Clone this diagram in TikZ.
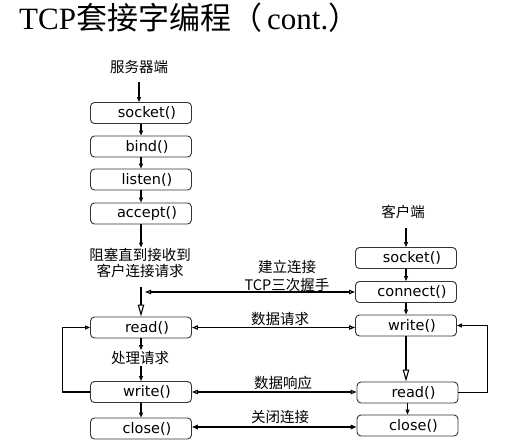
\documentclass[tikz,border=0pt]{standalone}
\usepackage{fontspec}
\setmainfont{Liberation Serif}
\newfontfamily\cjk{Noto Sans CJK SC}
\newfontfamily\boxfont{DejaVu Sans}
\usetikzlibrary{arrows.meta}
\begin{document}
\begin{tikzpicture}[x=1pt,y=-1pt,
  fbox/.style={draw=black!80, line width=0.9pt, rounded corners=4pt,
    minimum width=101pt, minimum height=21pt, inner sep=0pt,
    font=\boxfont\fontsize{14.5}{15}\selectfont},
  lbl/.style={inner sep=1pt, font=\cjk\fontsize{14.5}{17}\selectfont, align=center},
  sm/.style={line width=1.1pt, -{Triangle[open, length=5pt, width=4pt]}},
  bg/.style={line width=1.1pt, -{Triangle[open, length=12pt, width=6.5pt]}},
  both/.style={line width=1.1pt, {Triangle[open, length=6pt, width=4.5pt]}-{Triangle[open, length=6pt, width=4.5pt]}}
]
\useasboundingbox (0,0) rectangle (514,445);
% title
\node[anchor=west, inner sep=0pt, font=\fontsize{31}{34}\selectfont] (title) at (19,18)
  {TCP{\cjk 套接字编程（}\,cont.{\cjk ）}};
% server column
\node[lbl] (slab) at (139,67) {服务器端};
\coordinate (sstart) at (139,82);
\node[fbox] (ssocket) at (141,113) {\hspace*{12pt}socket()};
\node[fbox] (sbind) at (141,146.5) {\hspace*{12pt}bind()};
\node[fbox] (slisten) at (141,179.5) {\hspace*{12pt}listen()};
\node[fbox] (saccept) at (141,213.5) {\hspace*{12pt}accept()};
\node[lbl, inner sep=0pt] (sblock) at (140,262.5) {阻塞直到接收到\\[-1pt]客户连接请求};
\node[fbox] (sread) at (141,327.5) {\hspace*{12pt}read()};
\node[lbl] (sproc) at (140,358) {处理请求};
\node[fbox] (swrite) at (141,392) {\hspace*{12pt}write()};
\node[fbox] (sclose) at (141,428.5) {\hspace*{12pt}close()};
% client column
\node[lbl] (clab) at (403,212) {客户端};
\node[fbox] (csocket) at (406,258) {\hspace*{12pt}socket()};
\node[fbox] (cconnect) at (406,292) {\hspace*{12pt}connect()};
\node[fbox] (cwrite) at (406,325.5) {\hspace*{12pt}write()};
\node[fbox] (cread) at (407.5,392.5) {\hspace*{12pt}read()};
\node[fbox] (cclose) at (407.5,425.5) {\hspace*{12pt}close()};
% server vertical arrows
\draw[sm] (sstart) -- (ssocket.north -| sstart);
\draw[sm] (ssocket.south) -- (sbind.north);
\draw[sm] (sbind.south) -- (slisten.north);
\draw[sm] (slisten.south) -- (saccept.north);
\draw[sm] (saccept.south) -- (saccept.south |- sblock.north);
\draw[bg] (sread.north |- sblock.south) ++(0,10) -- (sread.north);
\draw[sm] (sread.south) -- (sread.south |- sproc.north);
\draw[sm] (swrite.north |- sproc.south) -- (swrite.north);
\draw[sm] (swrite.south) -- (sclose.north);
% client vertical arrows
\draw[sm] (csocket.north |- clab.south) ++(0,8) -- (csocket.north);
\draw[sm] (csocket.south) -- (cconnect.north);
\draw[sm] (cconnect.south) -- (cwrite.north);
\draw[bg] (cwrite.south) -- (cwrite.south |- cread.north);
\draw[sm] (cread.south -| cclose.north) -- (cclose.north);
% horizontal exchanges
\coordinate (tcpL) at (145,292);
\draw[both] (tcpL) -- (cconnect.west);
\node[lbl] (tlab1) at (287,267) {建立连接};
\node[lbl] (tlab2) at (287,285) {TCP{\cjk 三次握手}};
\draw[both] (sread.east) -- (sread.east -| cwrite.west);
\node[lbl] (dreq) at (280,319) {数据请求};
\draw[both] (swrite.east) -- (swrite.east -| cread.west);
\node[lbl] (dresp) at (283,383) {数据响应};
\draw[both, line width=1.6pt] (sclose.east |- 0,427) -- (cclose.west |- 0,427);
\node[lbl] (dclose) at (280,417) {关闭连接};
% loops
\draw[sm] (swrite.west) -- ++(-28,0) |- (sread.west);
\draw[sm] (cread.east) -- ++(29,0) |- (cwrite.east);
\end{tikzpicture}
\end{document}
